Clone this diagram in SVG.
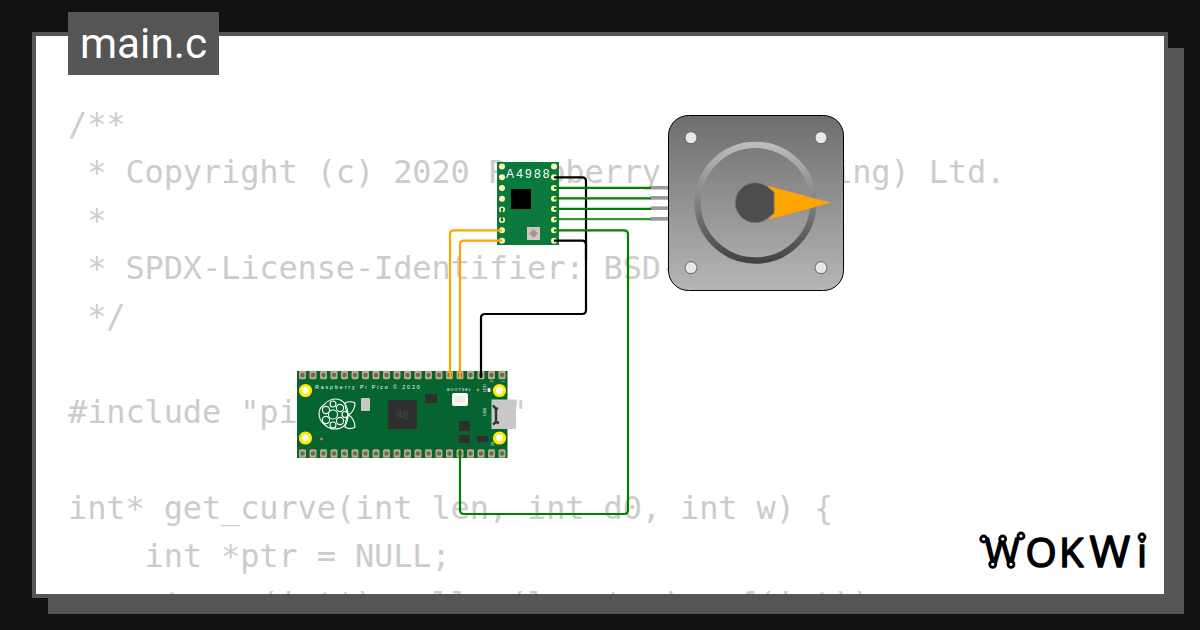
<svg xmlns="http://www.w3.org/2000/svg" width="1200" height="630" viewBox="0 0 1200 630">
<style>
.code{font-family:"DejaVu Sans Mono",monospace;font-size:32px;letter-spacing:-.14px;fill:#ccc;white-space:pre}
.w{fill:none;stroke-width:2.2;stroke-linejoin:round}
.g{stroke:#008000}.k{stroke:#000}.o{stroke:#ffa500}
.pad{fill:#b9ab84}.hole{fill:#6b6a55}
.chip{fill:#2f2f2f}
.mt{fill:#ffeb00}.mh{fill:#fff}
.pl{fill:#fff4b8}
.stub{fill:#9a9a9a}
.bolt{fill:#e8e8e8;stroke:#666;stroke-width:1}
.tiny{font-family:"Liberation Sans",sans-serif;fill:#fff}
.lab{font-family:"Liberation Sans",sans-serif;font-size:4px;fill:#e4e4e4;text-anchor:middle}
.node{fill:#fff;stroke:#000;stroke-width:2.8}
</style>
<defs>
<linearGradient id="body" x1="0" y1="0" x2="0" y2="1"><stop offset="0" stop-color="#6e6e6e"/><stop offset="1" stop-color="#b6b6b6"/></linearGradient>
<linearGradient id="ring" x1="0" y1="0" x2="0" y2="1"><stop offset="0" stop-color="#bcbcbc"/><stop offset="1" stop-color="#444"/></linearGradient>
<clipPath id="panel"><rect x="36" y="36" width="1128" height="558"/></clipPath>
<g id="p"><rect class="pad" x="-3.500" y="-4.200" width="7" height="8.400" rx="1.500"/><circle class="hole" r="2.200"/></g>
</defs>
<rect width="1200" height="630" fill="#111"/>
<rect x="48" y="48" width="1136" height="566" fill="#555"/>
<rect x="34" y="34" width="1132" height="562" fill="#fff" stroke="#555" stroke-width="4"/>
<g id="code" clip-path="url(#panel)">
<text class="code" x="68" y="135" xml:space="preserve">/**</text>
<text class="code" x="68" y="183" xml:space="preserve"> * Copyright (c) 2020 Raspberry Pi (Trading) Ltd.</text>
<text class="code" x="68" y="231" xml:space="preserve"> *</text>
<text class="code" x="68" y="279" xml:space="preserve"> * SPDX-License-Identifier: BSD-3-Clause</text>
<text class="code" x="68" y="327" xml:space="preserve"> */</text>
<text class="code" x="68" y="423" xml:space="preserve">#include "pico/stdlib.h"</text>
<text class="code" x="68" y="519" xml:space="preserve">int* get_curve(int len, int d0, int w) {</text>
<text class="code" x="68" y="567" xml:space="preserve">    int *ptr = NULL;</text>
<text class="code" x="68" y="615" xml:space="preserve">    ptr = (int*) malloc(len * sizeof(int));</text>
</g>
<g id="tab"><rect x="68" y="12" width="151" height="63" fill="#555"/>
<text x="80" y="58" font-family="Roboto,sans-serif" font-size="42.300" fill="#fff">main.c</text></g>
<g id="pico">
<rect x="297" y="371" width="210.500" height="87" fill="#05642f"/>
<g id="pico-pins">
<use href="#p" x="302.500" y="375"/><use href="#p" x="313" y="375"/><use href="#p" x="323.500" y="375"/><use href="#p" x="334" y="375"/><use href="#p" x="344.500" y="375"/><use href="#p" x="355" y="375"/><use href="#p" x="365.500" y="375"/><use href="#p" x="376" y="375"/><use href="#p" x="386.500" y="375"/><use href="#p" x="397" y="375"/><use href="#p" x="407.500" y="375"/><use href="#p" x="418" y="375"/><use href="#p" x="428.500" y="375"/><use href="#p" x="439" y="375"/><use href="#p" x="449.500" y="375"/><use href="#p" x="460" y="375"/><use href="#p" x="470.500" y="375"/><use href="#p" x="481" y="375"/><use href="#p" x="491.500" y="375"/><use href="#p" x="502" y="375"/>
<use href="#p" x="302.500" y="453.500"/><use href="#p" x="313" y="453.500"/><use href="#p" x="323.500" y="453.500"/><use href="#p" x="334" y="453.500"/><use href="#p" x="344.500" y="453.500"/><use href="#p" x="355" y="453.500"/><use href="#p" x="365.500" y="453.500"/><use href="#p" x="376" y="453.500"/><use href="#p" x="386.500" y="453.500"/><use href="#p" x="397" y="453.500"/><use href="#p" x="407.500" y="453.500"/><use href="#p" x="418" y="453.500"/><use href="#p" x="428.500" y="453.500"/><use href="#p" x="439" y="453.500"/><use href="#p" x="449.500" y="453.500"/><use href="#p" x="460" y="453.500"/><use href="#p" x="470.500" y="453.500"/><use href="#p" x="481" y="453.500"/><use href="#p" x="491.500" y="453.500"/><use href="#p" x="502" y="453.500"/>
</g>
<circle class="mt" cx="305.500" cy="390.500" r="6.600"/><circle class="mh" cx="305.500" cy="390.500" r="3.400"/>
<circle class="mt" cx="305.500" cy="438" r="6.600"/><circle class="mh" cx="305.500" cy="438" r="3.400"/>
<circle class="mt" cx="499.500" cy="390.500" r="6.600"/><circle class="mh" cx="499.500" cy="390.500" r="3.400"/>
<circle class="mt" cx="499.500" cy="438" r="6.600"/><circle class="mh" cx="499.500" cy="438" r="3.400"/>
<text class="tiny" x="315" y="388.500" font-size="5.300" letter-spacing="1.900">Raspberry Pi Pico © 2020</text>
<text class="tiny" x="447" y="390.500" font-size="3.800" letter-spacing="1">BOOTSEL</text>
<text class="lab" transform="translate(485.500 388) rotate(-90)">LED</text>
<text class="lab" transform="translate(485.500 412) rotate(-90)">USB</text>
<text class="lab" transform="translate(493 381.500) rotate(-90)">2</text>
<text class="lab" transform="translate(503.500 381.500) rotate(-90)">1</text>
<text class="lab" transform="translate(493.500 444) rotate(-90)">39</text>
<g id="logo" fill="none" stroke="#fff" stroke-width="1.100">
<path d="M319 413c0-4 3-7 6-9c2-3 7-5 10-5c4 0 8 2 10 5c2 3 3 7 3 11c0 4-1 8-3 10c-3 3-6 4-10 4c-4 0-8-2-10-4c-3-2-6-6-6-12z"/>
<circle cx="333" cy="414.500" r="4.500"/><circle cx="326" cy="410" r="3.600"/><circle cx="340" cy="408" r="3.600"/><circle cx="326" cy="420" r="3.600"/><circle cx="340" cy="421" r="3.600"/><circle cx="333" cy="404" r="3"/><circle cx="333" cy="425" r="3"/><circle cx="345" cy="414.500" r="3"/>
<path d="M345 403c4-2 8-1 10 0c0 5-3 11-7 12c-2-4-3-8-3-12zM348 415c4 1 7 7 7 12c-3 2-7 2-10 0c0-4 1-8 3-12z"/>
</g>
<rect x="361" y="398" width="9" height="13" rx="1" fill="#c8c8c8"/>
<rect class="chip" x="388" y="400" width="29" height="29"/>
<g fill="none" stroke="#474747" stroke-width=".7"><circle cx="402.500" cy="414.500" r="2"/><circle cx="399" cy="412" r="2"/><circle cx="406" cy="412" r="2"/><circle cx="399" cy="417" r="2"/><circle cx="406" cy="417" r="2"/></g>
<rect class="chip" x="425" y="394" width="12" height="9"/>
<rect x="452" y="393" width="16" height="13" rx="2" fill="#fff"/><ellipse cx="460" cy="399.500" rx="5.500" ry="4" fill="#eee"/>
<rect class="chip" x="459" y="421" width="11" height="10"/>
<rect class="chip" x="459" y="435" width="11" height="8"/>
<rect class="chip" x="477" y="436" width="11" height="6"/>
<circle cx="478" cy="390" r="1.400" fill="#a98f4a"/><circle cx="321.500" cy="439" r="1.400" fill="#a98f4a"/>
<rect x="487.500" y="388" width="3" height="4" rx="1" fill="#eee"/>
<rect x="491.500" y="399.500" width="24.500" height="29.500" fill="#c8c8c8"/><rect x="516" y="399.500" width="1.500" height="7" fill="#ddd"/>
<path d="M493 405.500l3 3.500v13l-3 2.500M496 409l2-1M496 422l3 1" fill="none" stroke="#333" stroke-width="2.400"/>
</g>
<g id="a4988">
<rect x="497" y="162" width="62" height="83" fill="#0a7a3c"/>
<rect x="511" y="189" width="20" height="20" fill="#000"/>
<rect x="527" y="227" width="13" height="13" fill="#cdc7c7"/><rect x="530.500" y="230.500" width="6" height="6" fill="#a98f8f" transform="rotate(45 533.500 233.500)"/>
<text x="506" y="177.700" font-family="Liberation Sans,sans-serif" font-size="12" letter-spacing="2.200" fill="#fff">A4988</text>
<g class="pl"><circle cx="502" cy="166.500" r="3"/><circle cx="502" cy="177.300" r="3"/><circle cx="502" cy="188" r="3"/><circle cx="502" cy="198.700" r="3"/><circle cx="502" cy="209.500" r="3"/><circle cx="502" cy="220" r="3"/><circle cx="502" cy="230.300" r="3"/><circle cx="502" cy="240.700" r="3"/><circle cx="554" cy="166.500" r="3"/><circle cx="554" cy="177.300" r="3"/><circle cx="554" cy="188" r="3"/><circle cx="554" cy="198.700" r="3"/><circle cx="554" cy="209" r="3"/><circle cx="554" cy="219.500" r="3"/><circle cx="554" cy="230.300" r="3"/><circle cx="554" cy="240.700" r="3"/></g>
<path d="M502 209.500V220" stroke="#008000" stroke-width="1.600"/><circle cx="502" cy="209.500" r="1.400" fill="#0a6a30"/><circle cx="502" cy="220" r="1.400" fill="#0a6a30"/>
</g>
<g id="stepper">
<rect class="stub" x="650.500" y="186" width="18" height="3.500"/><rect class="stub" x="650.500" y="196" width="18" height="3.700"/><rect class="stub" x="650.500" y="206.300" width="18" height="3.700"/><rect class="stub" x="650.500" y="217" width="18" height="3.700"/>
<rect x="668.500" y="115.500" width="175" height="175" rx="20" fill="url(#body)" stroke="#000"/>
<circle class="bolt" cx="691" cy="137.700" r="6"/><circle class="bolt" cx="821" cy="137.700" r="6"/><circle class="bolt" cx="691" cy="267.700" r="6"/><circle class="bolt" cx="821" cy="267.700" r="6"/>
<circle cx="755.500" cy="202.700" r="57.800" fill="none" stroke="url(#ring)" stroke-width="6.400"/>
<path d="M768.300 186L831 202.700L770 219.300Z" fill="#ffa500"/>
<path d="M768 187.300A20 20 0 1 0 768 218.100L774 213.300V192.100Z" fill="#4d4d4d" stroke="#777"/>
</g>
<g id="connectors">
<path class="w k" d="M554 177.300H582q4 0 4 4V310q0 4-4 4H485q-4 0-4 4V378"/>
<path class="w k" d="M554 240.700H582q4 0 4 4V260"/>
<path class="w g" d="M554 187.800H651M554 198.400H651M554 208.800H651"/>
<path class="w g" stroke-opacity=".8" d="M554 219.200H651"/>
<path class="w g" d="M554 230.300H624q4 0 4 4V510q0 4-4 4H464q-4 0-4-4V450"/>
<path class="w o" d="M502 230.300H454q-4 0-4 4V378"/>
<path class="w o" d="M502 240.700H464q-4 0-4 4V378"/>
</g>
<g id="logo-wokwi">
<text y="567" font-family="Open Sans,sans-serif" font-size="40" fill="#000" stroke="#000" stroke-width="1.500" stroke-linejoin="round"><tspan x="984.500" y="565.500" font-size="38">W</tspan><tspan x="1025.500" y="567">O</tspan><tspan x="1059" y="567">K</tspan><tspan x="1089.500" y="567" font-size="44">W</tspan><tspan x="1137" y="567">i</tspan></text>
<circle class="node" cx="983.700" cy="539" r="3"/><circle class="node" cx="1002.700" cy="539" r="3"/><circle class="node" cx="1021" cy="536" r="3"/><circle class="node" cx="992.700" cy="564.300" r="3"/><circle class="node" cx="1011" cy="564.300" r="3"/><circle class="node" cx="1142" cy="537" r="3"/>
</g>
</svg>
